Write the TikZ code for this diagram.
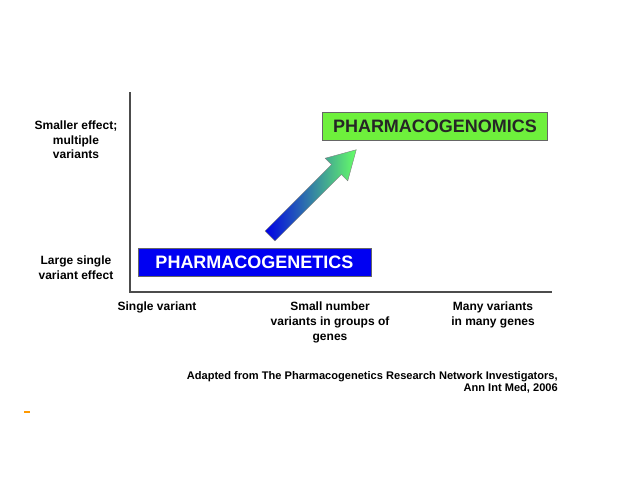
\documentclass[tikz,border=0pt]{standalone}
\usepackage{fontspec}
\setmainfont{Liberation Sans}
\begin{document}
\begin{tikzpicture}[x=0.75pt,y=-0.75pt,
  lab/.style={font=\bfseries\fontsize{9}{11}\selectfont,align=center,inner sep=0pt},
  box/.style={draw=black!60,minimum height=21pt,inner sep=0pt,font=\bfseries\fontsize{13.5}{15}\selectfont}]
\useasboundingbox (0,0) rectangle (638,478);
\coordinate (o) at (130,292);
\coordinate (ytop) at (130,92);
\coordinate (xend) at (552,292);
\draw[black!70,line width=0.8pt] (ytop) -- (o) -- (xend);
\node[box,fill=blue!95!black,text=white,minimum width=175pt] (pg) at (254.5,262.5) {PHARMACOGENETICS};
\node[box,fill={rgb,255:red,110;green,240;blue,60},text=black!85,minimum width=169pt] (pm) at (435,126) {PHARMACOGENOMICS};
\coordinate (tail) at (270,236);
\begin{scope}[shift={(tail)},rotate=45]
\shade[left color=blue!90!black,right color=green!60,draw=black!50,line width=0.3pt]
  (0,-7) -- (94,-7) -- (94,-16) -- (122,0) -- (94,16) -- (94,7) -- (0,7) -- cycle;
\end{scope}
\node[lab] (l1) at (76,140) {Smaller effect;\\multiple\\variants};
\node[lab] (l2) at (76,268) {Large single\\variant effect};
\node[lab,anchor=north] (x1) at (157,302) {Single variant};
\node[lab,anchor=north] (x2) at (330,302) {Small number\\variants in groups of\\genes};
\node[lab,anchor=north] (x3) at (493,302) {Many variants\\in many genes};
\node[lab,align=right,anchor=north east,font=\bfseries\fontsize{8.3}{9.5}\selectfont] (cap) at (558,371) {Adapted from The Pharmacogenetics Research Network Investigators,\\Ann Int Med, 2006};
\draw[orange!80!yellow,line width=0.8pt] (24,412) -- (30,412);
\end{tikzpicture}
\end{document}
